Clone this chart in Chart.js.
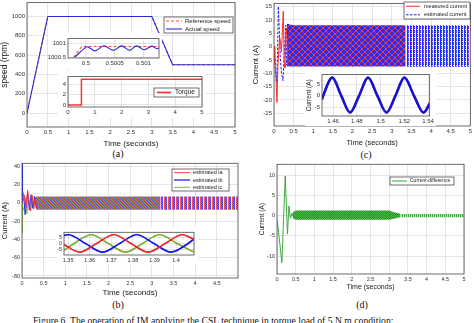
<!DOCTYPE html>
<html>
<head>
<meta charset="utf-8">
<script src="https://cdn.jsdelivr.net/npm/chart.js@4.4.1/dist/chart.umd.min.js"></script>
<style>
  html, body { margin: 0; padding: 0; background: #fff; }
  body { position: relative; width: 474px; height: 323px; overflow: hidden; }
  canvas { position: absolute; }
  .tag { position: absolute; font: 10px 'Liberation Serif', 'Times New Roman', serif; color: #111; transform: translate(-50%, -50%); white-space: nowrap; }
  #caption { position: absolute; left: 33px; font-family: 'Liberation Serif', 'Times New Roman', serif; line-height: 1; white-space: nowrap; color: #111; }
</style>
</head>
<body>
<div class="tag" style="left:118px;top:153px">(a)</div>
<div class="tag" style="left:118px;top:304px">(b)</div>
<div class="tag" style="left:366px;top:154px">(c)</div>
<div class="tag" style="left:362px;top:304px">(d)</div>
<div id="caption">Figure 6. The operation of IM applying the CSL technique in torque load of 5 N.m condition:</div>
<script>
// ---- (a) speed and torque
const SPEED_T = [0, 0.5, 3, 3.5, 5];
const SPEED_REF = [0, 1000, 1000, 500, 500];
const SPEED_ACT = [0, 1000, 1000, 500, 500];
const ZOOM_REF_T = [0.49979, 0.49993, 0.50127];
const ZOOM_REF = [1000.5, 1000.875, 1000.875];
const ZOOM_ACT_T = [0.49981, 0.49998, 0.50002, 0.50016, 0.50031, 0.50048, 0.50062, 0.50076, 0.50088, 0.50101, 0.50115, 0.50123, 0.50127];
const ZOOM_ACT = [1000.5, 1000.82, 1000.87, 1000.72, 1000.9, 1000.74, 1000.9, 1000.74, 1000.9, 1000.76, 1000.89, 1000.8, 1000.82];
const TORQUE_T = [0, 0.5, 0.5, 5];
const TORQUE = [0, 0, 5, 5];

// ---- (c) measured / estimated current
const C_MEAS_T = [0, 0.02, 0.05, 0.076, 0.1, 0.144, 0.17, 0.19, 0.236, 0.26, 0.28, 0.3, 0.32, 0.35];
const C_MEAS = [0, -6, -12, -21, -7, 3.4, 1, -2, 13.3, -5.9, -8, 4, 7, -6];
const C_EST_T = [0, 0.03, 0.07, 0.09, 0.11, 0.13, 0.16, 0.19, 0.23, 0.26, 0.3, 0.32, 0.35];
const C_EST = [0, -5, -13.4, -2, 15, 8, -4, -10, -12.8, -3, 8, -7, 7];
const C1_T = [0.33, 0.5, 3.35], C1_TOP = [8.5, 8, 8], C1_BOT = [-7.5, -7.5, -7.5];
const C2_T = [3.35, 5], C2_TOP = [8, 8], C2_BOT = [-7.6, -7.6];
const CZ_EST_T = [1.4507, 1.4518, 1.4594, 1.4669, 1.4744, 1.4820, 1.4895, 1.4973, 1.5051, 1.5126, 1.5201, 1.5281, 1.5362, 1.5413];
const CZ_EST = [-1.7, 0, 7.8, 0, -7.4, 0, 7.8, 0, -7.4, 0, 7.8, 0, -7.4, -3.7];
const CZ_MEAS_T = [1.4507, 1.4514, 1.4590, 1.4665, 1.4740, 1.4816, 1.4891, 1.4969, 1.5047, 1.5122, 1.5197, 1.5277, 1.5358, 1.5413];
const CZ_MEAS = [-1.1, 0, 8, 0, -7.3, 0, 8, 0, -7.3, 0, 8, 0, -7.3, -2.9];

// ---- (b) three phase estimated currents
const B_IA_T = [0, 0.03, 0.06, 0.09, 0.13, 0.17, 0.2, 0.24, 0.27, 0.31, 0.33];
const B_IA = [0, 3, 8, -5, 14, -3, -9, 8, -7, 6, -5];
const B_IB_T = [0, 0.004, 0.02, 0.04, 0.07, 0.1, 0.13, 0.17, 0.21, 0.25, 0.29, 0.33];
const B_IB = [0, 44, 12, 9, -13, -2, 11, -8, 9, -6, 7, -6];
const B_IC_T = [0, 0.003, 0.01, 0.04, 0.08, 0.11, 0.15, 0.19, 0.23, 0.27, 0.3, 0.33];
const B_IC = [0, -33, -5, -8, 5, -12, 6, -6, 5, -6, 5, 6];
const B1_T = [0.32, 3.2], B1_TOP = [7, 7], B1_BOT = [-7.5, -7.5];
const B2_T = [3.2, 5], B2_TOP = [7, 7], B2_BOT = [-7.5, -7.5];
const BZ_A_T = [1.3481, 1.3553, 1.3632, 1.3712, 1.3791, 1.3870, 1.3950, 1.4029, 1.4083];
const BZ_A = [-1.0, -7.5, 0, 7.5, 0, -7.5, 0, 7.5, 3.6];
const BZ_B_T = [1.3481, 1.3501, 1.3580, 1.3660, 1.3739, 1.3818, 1.3897, 1.3977, 1.4056, 1.4083];
const BZ_B = [6.9, 7.5, 0, -7.5, 0, 7.5, 0, -7.5, 0, 3.8];
const BZ_C_T = [1.3481, 1.3528, 1.3607, 1.3686, 1.3766, 1.3845, 1.3924, 1.4004, 1.4083];
const BZ_C = [-5.9, 0, 7.5, 0, -7.5, 0, 7.5, 0, -7.5];

// ---- (d) current difference
const D_T = [0, 0.03, 0.13, 0.22, 0.28, 0.32, 0.36, 0.40, 0.44];
const D_I = [-1, -3, -11.6, 9.8, -4.5, 2.4, -0.6, 0.6, -0.4];
const D1_T = [0.42, 0.5, 3.0, 3.15, 3.3], D1_TOP = [0.8, 1.3, 1.3, 0.8, 0.5], D1_BOT = [-0.6, -1.0, -1.0, -0.7, -0.4];
const D2_T = [3.3, 5], D2_TOP = [0.45, 0.45], D2_BOT = [-0.35, -0.35];

// ---- ticks
const X_TICKS = [0, 0.5, 1, 1.5, 2, 2.5, 3, 3.5, 4, 4.5, 5];
const B_X_TICKS = [0, 0.5, 1, 1.5, 2, 2.5, 3, 3.5, 4, 4.5];
const SPEED_Y_TICKS = [0, 200, 400, 600, 800, 1000];
const ZOOM_X_TICKS = [0.5, 0.5005, 0.501], ZOOM_Y_TICKS = [1000.5, 1001];
const TORQUE_X_TICKS = [0, 1, 2, 3, 4, 5], TORQUE_Y_TICKS = [0, 2, 4];
const C_Y_TICKS = [-25, -20, -15, -10, -5, 0, 5, 10, 15];
const CZ_X_TICKS = [1.46, 1.48, 1.5, 1.52, 1.54], CZ_Y_TICKS = [-5, 0, 5];
const B_Y_TICKS = [-80, -60, -40, -20, 0, 20, 40];
const BZ_X_TICKS = [1.35, 1.36, 1.37, 1.38, 1.39, 1.4], BZ_Y_TICKS = [-5, 0, 5];
const D_Y_TICKS = [-10, -5, 0, 5, 10];

const FONT = "'Liberation Sans', Arial, sans-serif";
const RED = '#ff2b2b', BLUE = '#1f1fff';

// small pixel tiles used as texture for the dense oscillation bands
function pat(rows, cols) {
  const c = document.createElement('canvas');
  c.width = rows[0].length; c.height = rows.length;
  const g = c.getContext('2d');
  rows.forEach((r, y) => [...r].forEach((k, x) => { g.fillStyle = cols[k]; g.fillRect(x, y, 1, 1); }));
  return g.createPattern(c, 'repeat');
}
const PAT_C1 = pat(['rbbbbr', 'brbbrb', 'bbrrbb', 'bbrrbb', 'brbbrb', 'rbbbbr'], { b: '#2a2af0', r: '#e8404a' });
const PAT_C2 = pat(['bbw', 'brw', 'bbw', 'bww'], { b: '#2a2af0', r: '#e8404a', w: '#eeeeff' });
const PAT_B1 = pat(['rgb', 'brg', 'gbr'], { r: '#d8504a', g: '#80a848', b: '#5050d8' });
const PAT_B2 = pat(['rgbw', 'gbrw'], { r: '#e8403a', g: '#7aaa3a', b: '#3a3ae8', w: '#f0f0f0' });
const PAT_D1 = pat(['gh', 'hg'], { g: '#1e961e', h: '#4cb84c' });
const PAT_D2 = pat(['gw'], { g: '#3aa83a', w: '#bfe5bf' });

function xy(ts, vs) { return ts.map((t, i) => ({ x: t, y: vs[i] })); }
function line(ts, vs, color, width, dash, smooth) {
  return { data: xy(ts, vs), borderColor: color, borderWidth: width, borderDash: dash || [], pointRadius: 0, fill: false,
    cubicInterpolationMode: smooth ? 'monotone' : 'default', tension: 0 };
}
function band(ts, top, bot, fillPat) {
  return [
    { data: xy(ts, top), borderColor: 'transparent', borderWidth: 0, backgroundColor: fillPat, fill: '+1', pointRadius: 0 },
    { data: xy(ts, bot), borderColor: 'transparent', borderWidth: 0, fill: false, pointRadius: 0 },
  ];
}

const frame = {
  id: 'frame',
  beforeDraw(ch, a, o) {
    if (!o.bg) return;
    ch.ctx.save(); ch.ctx.fillStyle = '#fff'; ch.ctx.fillRect(0, 0, ch.width, ch.height); ch.ctx.restore();
  },
  afterDatasetsDraw(ch) {
    const { ctx: g, chartArea: r } = ch;
    g.save(); g.strokeStyle = '#4a4a4a'; g.lineWidth = 0.8;
    g.strokeRect(r.left, r.top, r.right - r.left, r.bottom - r.top); g.restore();
  },
};

// legend drawn inside the canvas, positions in page pixels
function legendPlugin(L, off) {
  return {
    id: 'legendBox',
    afterDraw(ch) {
      const g = ch.ctx, ox = off[0], oy = off[1];
      const x = L.box[0] - ox, y = L.box[1] - oy, w = L.box[2], h = L.box[3];
      g.save();
      g.fillStyle = '#fff'; g.fillRect(x, y, w, h);
      g.strokeStyle = '#333'; g.lineWidth = 0.7; g.strokeRect(x, y, w, h);
      const step = h / L.items.length;
      g.font = L.fs + 'px ' + FONT; g.textBaseline = 'middle';
      L.items.forEach((it, i) => {
        const cy = y + step * (i + 0.5);
        g.strokeStyle = it[1]; g.lineWidth = it[3] || 1; g.setLineDash(it[2] || []);
        g.beginPath(); g.moveTo(L.sample[0] - ox, cy); g.lineTo(L.sample[1] - ox, cy); g.stroke();
        g.setLineDash([]); g.fillStyle = '#1a1a1a'; g.fillText(it[0], L.tx - ox, cy);
      });
      g.restore();
    },
  };
}

function axis(min, max, ticks, fit, fs, title, tfs) {
  return {
    type: 'linear', min, max,
    afterBuildTicks: (s) => { s.ticks = ticks.map((v) => ({ value: v })); },
    afterFit: (s) => { if (s.isHorizontal()) s.height = fit; else s.width = fit; },
    grid: { color: '#dadada', lineWidth: 0.7, drawTicks: false },
    border: { display: false },
    ticks: { padding: 2, autoSkip: false, maxRotation: 0, color: '#333', font: { family: FONT, size: fs }, callback: (v) => String(v) },
    title: { display: !!title, text: title || '', padding: 0, color: '#1a1a1a', font: { family: FONT, size: tfs } },
  };
}

function plot(p) {
  const [x0, y0, x1, y1] = p.area;
  const pt = p.pt ?? 4, pr = p.pr ?? 6;
  const left = x0 - p.yw, top = y0 - pt;
  const c = document.createElement('canvas');
  c.width = x1 - x0 + p.yw + pr; c.height = y1 - y0 + p.xh + pt;
  c.style.left = left + 'px'; c.style.top = top + 'px';
  document.body.insertBefore(c, document.getElementById('caption'));
  const plugins = [frame];
  if (p.legend) plugins.push(legendPlugin(p.legend, [left, top]));
  return new Chart(c, {
    type: 'line',
    data: { datasets: p.sets },
    options: {
      responsive: false, animation: false, events: [],
      layout: { padding: { top: pt, right: pr, left: 0, bottom: 0 } },
      plugins: { legend: { display: false }, tooltip: { enabled: false }, frame: { bg: !!p.bg } },
      scales: {
        x: axis(p.xr[0], p.xr[1], p.xt, p.xh, p.fs, p.xTitle, p.xtfs),
        y: axis(p.yr[0], p.yr[1], p.yt, p.yw, p.fs, p.yTitle, p.ytfs),
      },
    },
    plugins,
  });
}

// (a) main
plot({ area: [27, 1, 235, 127], yw: 27, xh: 22, xr: [0, 5], yr: [-143, 1143], xt: X_TICKS, yt: SPEED_Y_TICKS, fs: 6,
  xTitle: 'Time (seconds)', xtfs: 8, yTitle: 'speed (rpm)', ytfs: 8.5,
  sets: [line(SPEED_T, SPEED_ACT, '#2b2bd9', 1.1), line(SPEED_T, SPEED_REF, '#ff4a2a', 1.1, [3, 2])],
  legend: { box: [164, 17, 69, 16], fs: 6, sample: [166, 182], tx: 185,
    items: [['Reference speed', '#ff4a2a', [3, 2], 1.2], ['Actual speed', '#2b2bd9', null, 1.1]] } });
// (c) main
plot({ area: [274, 2, 472, 126], yw: 23, xh: 21, pr: 2, xr: [0, 5], yr: [-29.8, 16.1], xt: X_TICKS, yt: C_Y_TICKS, fs: 6,
  xTitle: 'Time (seconds)', xtfs: 7.5, yTitle: 'Current (A)', ytfs: 8,
  sets: [line(C_MEAS_T, C_MEAS, RED, 1), line(C_EST_T, C_EST, BLUE, 1, [2.5, 1.5]),
    ...band(C1_T, C1_TOP, C1_BOT, PAT_C1), ...band(C2_T, C2_TOP, C2_BOT, PAT_C2)],
  legend: { box: [404, 2, 66, 17], fs: 5.5, sample: [406, 420], tx: 424,
    items: [['measured current', RED, null, 1], ['estimated current', BLUE, [2.5, 1.5], 1.2]] } });
// (b) main
plot({ area: [22, 162, 238, 278], yw: 22, xh: 20, pr: 1, xr: [0, 4.99], yr: [-82.2, 43.2], xt: B_X_TICKS, yt: B_Y_TICKS, fs: 5.5,
  xTitle: 'Time (seconds)', xtfs: 8, yTitle: 'Current (A)', ytfs: 7.5,
  sets: [line(B_IA_T, B_IA, '#ff2a2a', 0.9), line(B_IB_T, B_IB, '#2020ff', 0.9), line(B_IC_T, B_IC, '#77ac30', 0.9),
    ...band(B1_T, B1_TOP, B1_BOT, PAT_B1), ...band(B2_T, B2_TOP, B2_BOT, PAT_B2)],
  legend: { box: [172, 169, 57, 22], fs: 5.5, sample: [174, 190], tx: 193,
    items: [['estimated ia', '#ff2a2a', null, 0.9], ['estimated ib', '#4a4aff', null, 1.6], ['estimated ic', '#77ac30', null, 0.9]] } });
// (d) main
plot({ area: [277, 163, 464, 274], yw: 19, xh: 17, xr: [0, 5], yr: [-14.4, 12.7], xt: X_TICKS, yt: D_Y_TICKS, fs: 5.5,
  xTitle: 'Time (seconds)', xtfs: 7, yTitle: 'Current (A)', ytfs: 6.5,
  sets: [line(D_T, D_I, '#2ca02c', 0.9), ...band(D1_T, D1_TOP, D1_BOT, PAT_D1), ...band(D2_T, D2_TOP, D2_BOT, PAT_D2)],
  legend: { box: [390, 177, 64, 8], fs: 5, sample: [392, 407], tx: 410, items: [['Current-difference', '#3aa83a', null, 1]] } });

// insets
plot({ area: [68, 36, 159, 58], yw: 20, xh: 10, pt: 3, pr: 3, bg: true, xr: [0.49969, 0.50127], yr: [1000.469, 1001.156],
  xt: ZOOM_X_TICKS, yt: ZOOM_Y_TICKS, fs: 6,
  sets: [line(ZOOM_ACT_T, ZOOM_ACT, '#2b2bd9', 1.1, null, true), line(ZOOM_REF_T, ZOOM_REF, '#ff4a2a', 1.1, [3, 2])] });
plot({ area: [68, 74, 202, 107], yw: 10, xh: 11, pt: 3, pr: 4, bg: true, xr: [0, 5], yr: [-0.4, 5.5],
  xt: TORQUE_X_TICKS, yt: TORQUE_Y_TICKS, fs: 6,
  sets: [line(TORQUE_T, TORQUE, '#f03a3a', 1.5)],
  legend: { box: [154, 88, 45, 9], fs: 6.5, sample: [157, 171], tx: 175, items: [['Torque', '#f03a3a', null, 1.8]] } });
plot({ area: [322, 71, 432, 116], yw: 17, xh: 10, pt: 2, pr: 4, bg: true, xr: [1.4507, 1.5413], yr: [-8.88, 9.12],
  xt: CZ_X_TICKS, yt: CZ_Y_TICKS, fs: 6, yTitle: 'Current (A)', ytfs: 6.5,
  sets: [line(CZ_EST_T, CZ_EST, '#1212d8', 2.6, null, true), line(CZ_MEAS_T, CZ_MEAS, RED, 1.6, null, true)] });
plot({ area: [64, 229, 194, 255], yw: 8, xh: 10, pt: 2, pr: 4, bg: true, xr: [1.3481, 1.4083], yr: [-10, 9.6],
  xt: BZ_X_TICKS, yt: BZ_Y_TICKS, fs: 5.5,
  sets: [line(BZ_A_T, BZ_A, '#f02020', 1.7, null, true), line(BZ_B_T, BZ_B, '#1010e8', 1.7, null, true), line(BZ_C_T, BZ_C, '#77ac30', 1.7, null, true)] });

// caption: fit to the width it takes in the figure, cut by the bottom edge
const cap = document.getElementById('caption');
cap.style.fontSize = '10px';
const capSize = 10 * 361 / cap.getBoundingClientRect().width;
cap.style.fontSize = capSize + 'px';
cap.style.top = (324.5 - 0.88 * capSize) + 'px';
</script>
</body>
</html>
